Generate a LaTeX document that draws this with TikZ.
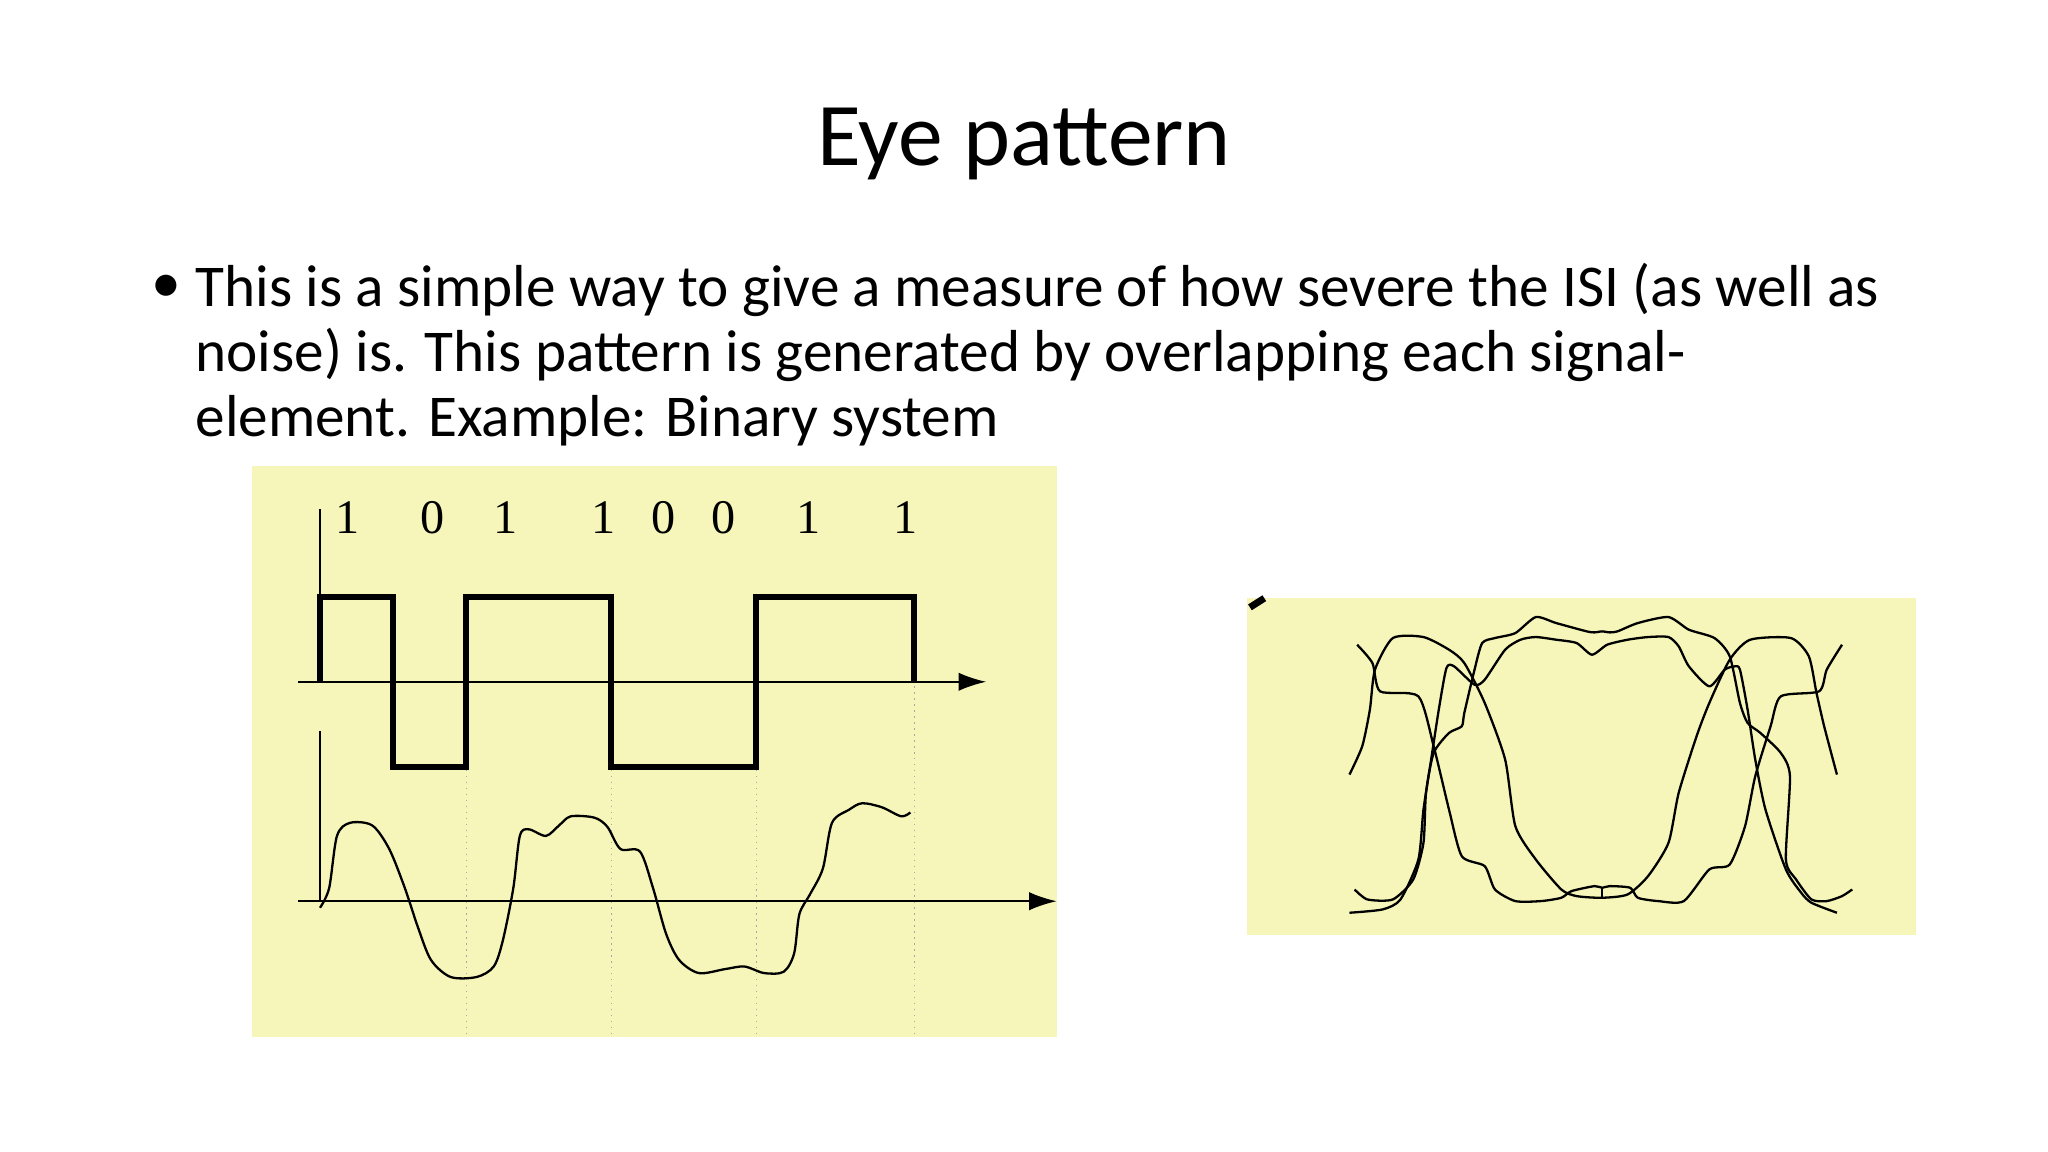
\documentclass[tikz,border=0pt]{standalone}
\usepackage{fontspec}
\setmainfont{Carlito}
\newfontfamily\serifbits{Liberation Serif}
\usetikzlibrary{arrows.meta}
\begin{document}
\begin{tikzpicture}[x=0.01cm,y=-0.01cm,
  axis/.style={line width=0.4pt,-{Latex[length=6pt,width=4pt]}},
  guide/.style={gray!70,line width=0.3pt,densely dotted},
  wave/.style={line width=0.5pt,line join=round}]
\useasboundingbox (0,0) rectangle (1568,882);
\definecolor{pan}{RGB}{246,246,186}
\node (title) at (784,110) {\fontsize{19.5}{22}\selectfont Eye pattern};
\node[anchor=center] (bul) at (127,221) {\fontsize{13}{15}\selectfont\textbullet};
\node[anchor=north west,align=left,inner sep=0pt,font=\fontsize{12.9}{14.15}\selectfont] (body) at (149,201) {This is a simple way to give a measure of how severe the ISI (as well as\\ noise) is. This pattern is generated by overlapping each signal-\\ element. Example: Binary system};
% left panel
\fill[pan] (193,357) rectangle (809,794);
\foreach \x/\b in {266/1,331/0,387/1,462/1,508/0,554/0,619/1,693/1}
  \node (b\x) at (\x,396) {\serifbits\fontsize{10.5}{12}\selectfont \b};
\foreach \x in {357,468,579,700} \draw[guide] (\x,457) -- (\x,792);
\draw[line width=0.4pt] (245,390) -- (245,522);
\draw[axis] (228,522) -- (755,522);
\draw[line width=0.4pt] (245,560) -- (245,690);
\draw[axis] (228,690) -- (809,690);
\draw[line width=1.3pt,line join=miter] (245,522) -- (245,457) -- (301,457) -- (301,587) -- (357,587) -- (357,457) -- (468,457) -- (468,587) -- (579,587) -- (579,457) -- (700,457) -- (700,522);
\draw[wave] plot[smooth,tension=0.5] coordinates {(245,695)(252,680)(258,640)(268,630)(285,632)(298,650)(310,680)(320,710)(330,735)(345,748)(365,748)(378,740)(385,720)(393,680)(398,640)(405,635)(418,640)(428,632)(437,625)(455,626)(465,633)(475,650)(490,652)(500,680)(510,715)(520,735)(535,745)(555,742)(570,740)(585,745)(600,744)(608,730)(612,700)(620,685)(630,665)(637,630)(650,620)(660,615)(675,618)(690,625)(697,622)};
% eye panel
\fill[pan] (955,458) rectangle (1467,716);
\draw[line width=1.5pt] (957,465) .. controls (962,462) .. (968,458);
\begin{scope}[shift={(917.9,428.6)},x=0.00391cm,y=-0.002554cm]
\draw[wave] plot[smooth,tension=0.4] coordinates {(295,1060)(360,1050)(395,1020)(430,900)(440,750)(455,600)(470,450)(485,325)(500,320)(540,375)(560,360)(600,270)(630,240)(660,232)(700,240)(740,250)(770,285)(800,255)(840,240)(880,232)(920,232)(940,260)(960,320)(1000,380)(1030,330)(1050,320)(1060,330)(1075,450)(1090,600)(1110,750)(1150,930)(1180,1000)(1200,1030)(1250,1060)};
\draw[wave] plot[smooth,tension=0.4] coordinates {(305,990)(330,1020)(380,1020)(420,960)(440,850)(445,700)(460,580)(490,520)(515,500)(520,460)(540,330)(555,250)(580,235)(620,220)(660,172)(700,190)(760,215)(775,218)(790,215)(805,218)(820,215)(860,190)(920,172)(960,210)(1010,235)(1040,290)(1060,430)(1075,490)(1100,520)(1140,580)(1158,650)(1150,900)(1170,960)(1200,1020)(1230,1025)(1260,1010)(1280,990)};
\draw[wave] plot[smooth,tension=0.4] coordinates {(310,255)(340,310)(355,395)(430,410)(460,560)(490,750)(515,890)(560,920)(580,990)(620,1025)(670,1025)(710,1015)(730,995)(775,980)(790,985)(805,980)(845,985)(860,1015)(900,1025)(950,1025)(1000,930)(1040,915)(1070,800)(1090,650)(1120,500)(1140,410)(1215,395)(1230,330)(1260,255)};
\draw[wave] plot[smooth,tension=0.4] coordinates {(295,645)(320,560)(335,450)(345,330)(380,235)(440,232)(490,270)(520,310)(560,430)(600,600)(620,800)(660,900)(710,990)(740,1010)(790,1015)(840,1005)(880,950)(920,850)(940,700)(975,530)(1000,430)(1040,300)(1080,240)(1160,235)(1195,290)(1210,400)(1225,500)(1250,645)};
\draw[wave] (790,985) -- (790,1012);
\end{scope}
\end{tikzpicture}
\end{document}
